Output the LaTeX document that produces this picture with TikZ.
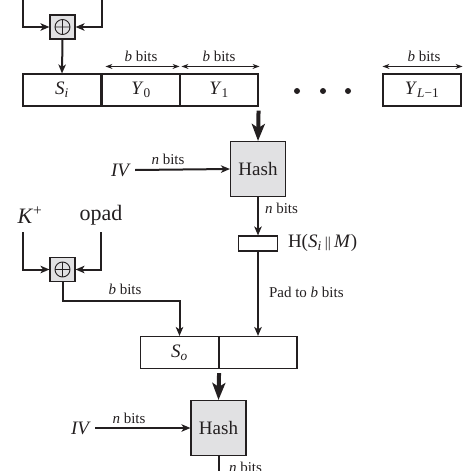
\documentclass[tikz,border=0pt]{standalone}
\usepackage{fontspec}
\setmainfont{Liberation Serif}
\usetikzlibrary{arrows.meta}
\definecolor{boxgray}{RGB}{225,225,227}
\definecolor{ink}{RGB}{35,31,32}
\begin{document}
\begin{tikzpicture}[x=1pt,y=-1pt,
  line width=2pt, draw=ink, text=ink,
  big/.style={font=\fontsize{19}{22}\selectfont},
  huge/.style={font=\fontsize{22}{25}\selectfont},
  small/.style={font=\fontsize{15}{17}\selectfont},
  cell/.style={draw,line width=1.1pt,minimum width=78pt,minimum height=32pt,inner sep=0pt,big},
  hashbox/.style={draw,line width=1.1pt,fill=boxgray,minimum size=55pt,inner sep=0pt,big},
  xorbox/.style={draw,line width=1.1pt,fill=boxgray,minimum width=25pt,minimum height=24pt,inner sep=0pt},
  smallbox/.style={draw,line width=1.1pt,minimum width=39pt,minimum height=15pt,inner sep=0pt},
  dotnode/.style={circle,fill=ink,minimum size=6pt,inner sep=0pt},
  arr/.style={-{Stealth[length=9pt,width=7.5pt,inset=2.5pt]}},
  thickarr/.style={line width=4pt,-{Stealth[length=17pt,width=13pt,inset=4pt]}},
  dimarr/.style={line width=0.9pt,{Stealth[length=7pt,width=5pt]}-{Stealth[length=7pt,width=5pt]}},
  xorsym/.style={line width=0.9pt},
]
\useasboundingbox (0,0) rectangle (471,471);
\clip (0,0) rectangle (471,471);

% top XOR
\node[xorbox] (xor1) at (62.5,27) {};
\draw[xorsym] (xor1) circle (7.5pt) ([xshift=-7.5pt]xor1.center) -- ([xshift=7.5pt]xor1.center) ([yshift=-7.5pt]xor1.center) -- ([yshift=7.5pt]xor1.center);
\coordinate (t1) at (23,-3);
\coordinate (t2) at (102,-3);
\draw[arr] (t1) |- (xor1.west);
\draw[arr] (t2) |- (xor1.east);

% message row
\node[cell] (si) at (62,90) {\textit{S}\textsubscript{\textit{i}}};
\node[cell] (y0) at (141,90) {\textit{Y}\textsubscript{0}};
\node[cell] (y1) at (219,90) {\textit{Y}\textsubscript{1}};
\node[cell] (yl) at (422,90) {\textit{Y}\textsubscript{\textit{L}−1}};
\node[dotnode] (d1) at (297,91) {};
\node[dotnode] (d2) at (323,91) {};
\node[dotnode] (d3) at (348,91) {};
\draw[arr] (xor1.south) -- (si.north);

\draw[dimarr] ([xshift=4pt,yshift=7pt]y0.north west) -- ([xshift=-1pt,yshift=7pt]y0.north east);
\draw[dimarr] ([xshift=2pt,yshift=7pt]y1.north west) -- ([xshift=1pt,yshift=7pt]y1.north east);
\draw[dimarr] ([xshift=0pt,yshift=7pt]yl.north west) -- ([xshift=1pt,yshift=7pt]yl.north east);
\node[small] (lb0) at ([yshift=17pt]y0.north) {\textit{b} bits};
\node[small] (lb1) at ([yshift=17pt]y1.north) {\textit{b} bits};
\node[small] (lbl) at ([xshift=2pt,yshift=17pt]yl.north) {\textit{b} bits};

% inner hash
\node[hashbox] (hash1) at (258,169) {Hash};
\draw[thickarr] ([yshift=-4pt]y1.south east) -- (hash1.north);
\node[big] (iv1) at (121,170) {\textit{IV}};
\draw[arr] (iv1.east) -- (hash1.west);
\node[small] (ln1) at (168,159) {\textit{n} bits};

\node[smallbox] (hb) at (258,243.5) {};
\draw[arr] (hash1.south) -- (hb.north);
\node[small,anchor=west,inner sep=0pt] (ln2) at (264,208) {\textit{n} bits};
\node[big,anchor=west,inner sep=0pt] (hlab) at (287,243) {H(\textit{S}\textsubscript{\textit{i}}\,{\fontsize{15}{15}\selectfont||}\,\textit{M})};

% outer key
\node[huge] (kp) at (30,215) {\textit{K}\textsuperscript{+}};
\node[huge] (opad) at (101,215) {opad};
\node[xorbox] (xor2) at (62.5,269.5) {};
\draw[xorsym] (xor2) circle (7.5pt) ([xshift=-7.5pt]xor2.center) -- ([xshift=7.5pt]xor2.center) ([yshift=-7.5pt]xor2.center) -- ([yshift=7.5pt]xor2.center);
\coordinate (k1) at (23,232);
\coordinate (o1) at (101,232);
\draw[arr] (k1) |- (xor2.west);
\draw[arr] (o1) |- (xor2.east);

% outer row
\node[cell] (so) at (179.5,352.5) {\textit{S}\textsubscript{\textit{o}}};
\node[cell] (sp) at (258,352.5) {};
\coordinate (c2) at (62.5,301);
\draw[arr] (xor2.south) -- (c2) -| (so.north);
\node[small] (lb2) at (125,289) {\textit{b} bits};
\draw[arr] (hb.south) -- (sp.north);
\node[small,anchor=west,inner sep=0pt] (lpad) at (268,292) {Pad to \textit{b} bits};

% outer hash
\node[hashbox] (hash2) at (218.5,428) {Hash};
\draw[thickarr] ([yshift=-4pt]so.south east) -- (hash2.north);
\node[big] (iv2) at (81,428) {\textit{IV}};
\draw[arr] (iv2.east) -- (hash2.west);
\node[small] (ln3) at (129,418) {\textit{n} bits};
\coordinate (bot) at (218.5,480);
\draw (hash2.south) -- (bot);
\node[small,anchor=west,inner sep=0pt] (ln4) at (228,467) {\textit{n} bits};
\end{tikzpicture}
\end{document}
